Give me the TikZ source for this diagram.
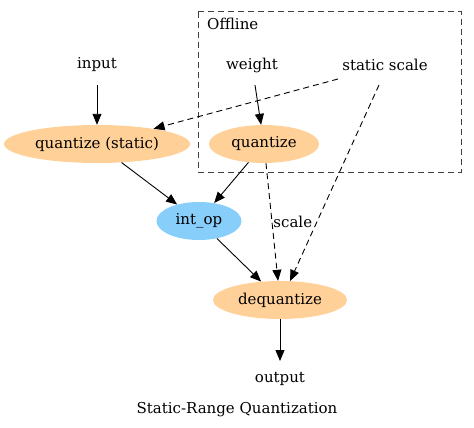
\documentclass[tikz,border=0pt]{standalone}
\usepackage{fontspec}
\setmainfont{DejaVu Serif}
\usetikzlibrary{arrows.meta,shapes.geometric}
\definecolor{orangefill}{RGB}{255,209,153}
\definecolor{bluefill}{RGB}{135,206,250}
\begin{document}
\begin{tikzpicture}[x=1pt,y=-1pt,
  every node/.style={font=\fontsize{15}{17}\selectfont},
  plain/.style={inner sep=0pt},
  oval/.style={ellipse,fill=orangefill,inner sep=0pt,minimum height=38pt},
  ovalblue/.style={ellipse,fill=bluefill,inner sep=0pt,minimum height=38pt},
  arr/.style={-{Triangle[length=11pt,width=9pt]},line width=0.9pt},
  darr/.style={arr,dash pattern=on 6pt off 4pt}]
\useasboundingbox (0,0) rectangle (474,428);
\draw[line width=1pt,dash pattern=on 6pt off 4pt,black!75] (198,12) rectangle (461,172);
\node[plain,anchor=west] (offl) at (207,24) {Offline};
\node[plain] (input) at (97,65) {input};
\node[plain] (weight) at (252,65) {weight};
\node[plain] (sscale) at (385,65) {static scale};
\node[oval,minimum width=186pt] (qs) at (97,144) {quantize (static)};
\node[oval,minimum width=110pt] (q) at (264,144) {quantize};
\node[ovalblue,minimum width=85pt] (iop) at (199,221) {int\_op};
\node[oval,minimum width=134pt] (dq) at (280,300) {dequantize};
\node[plain] (out) at (280,379) {output};
\node[plain] (cap) at (237,410) {Static-Range Quantization};
\coordinate (inb) at (97,85);
\coordinate (wb) at (255,85);
\coordinate (ssa) at (338,79);
\coordinate (ssb) at (379,85);
\coordinate (outt) at (280,361);
\draw[arr] (inb) -- (qs);
\draw[arr] (wb) -- (q);
\draw[darr] (ssa) -- (qs);
\draw[arr] (qs) -- (iop);
\draw[arr] (q) -- (iop);
\draw[darr] (q) -- node[plain,anchor=west,pos=0.5,xshift=1pt] (scl) {scale} (dq);
\draw[darr] (ssb) -- (dq.62);
\draw[arr] (iop) -- (dq);
\draw[arr] (dq) -- (outt);
\end{tikzpicture}
\end{document}
